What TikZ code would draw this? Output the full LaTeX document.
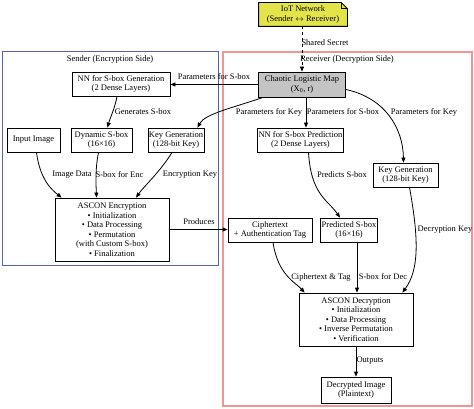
\documentclass[tikz,border=0pt]{standalone}
\usepackage{fontspec}
\setmainfont{Liberation Serif}
\usetikzlibrary{arrows.meta,backgrounds,calc}
\definecolor{sendblue}{HTML}{5363AF}
\definecolor{recvred}{HTML}{F09494}
\definecolor{iotyellow}{HTML}{E3E34A}
\definecolor{chaosgray}{HTML}{C4C4C4}
\begin{document}
\begin{tikzpicture}[x=1pt,y=-1pt,
  box/.style={draw, line width=0.8pt, inner sep=1pt, align=center, font=\fontsize{8.5}{9.5}\selectfont},
  lbl/.style={inner sep=0.5pt, font=\fontsize{8.5}{9.5}\selectfont},
  arr/.style={line width=0.8pt, -{Triangle[length=5pt,width=4pt]}},
]
\useasboundingbox (0,0) rectangle (474,409);
% clusters
\draw[sendblue, line width=1pt] (2,52) rectangle (218,265);
\draw[recvred, line width=1.6pt] (223,52) rectangle (472,406);
\node[lbl] (sendlbl) at (110,59) {Sender (Encryption Side)};
\node[lbl] (recvlbl) at (347,59) {Receiver (Decryption Side)};

% nodes
\node[box, draw=none, minimum width=88pt, minimum height=23pt] (iot) at (303,14.5) {IoT Network\\(Sender $\leftrightarrow$ Receiver)};
\begin{pgfonlayer}{background}
\draw[fill=iotyellow, line width=0.8pt] (iot.south west) -- (iot.south east) -- ([yshift=-6pt]iot.north east) -- ([xshift=-6pt]iot.north east) -- (iot.north west) -- cycle;
\draw[line width=0.5pt] ([xshift=-6pt]iot.north east) -- ([xshift=-6pt,yshift=-6pt]iot.north east) -- ([yshift=-6pt]iot.north east);
\end{pgfonlayer}
\node[box, fill=chaosgray, minimum width=87pt, minimum height=25pt] (chaos) at (302,84.5) {Chaotic Logistic Map\\(X\textsubscript{0}, r)};
\node[box, minimum width=98pt, minimum height=24pt] (nngen) at (121,84) {NN for S-box Generation\\(2 Dense Layers)};
\node[box, minimum width=53pt, minimum height=24pt] (inimg) at (33.5,140) {Input Image};
\node[box, minimum width=61pt, minimum height=24pt] (dyn) at (101.5,140) {Dynamic S-box\\(16×16)};
\node[box, minimum width=56pt, minimum height=24pt] (keys) at (176,140) {Key Generation\\(128-bit Key)};
\node[box, minimum width=114pt, minimum height=63pt] (ascenc) at (112,229.5) {ASCON Encryption\\\textbullet{} Initialization\\\textbullet{} Data Processing\\\textbullet{} Permutation\\(with Custom S-box)\\\textbullet{} Finalization};
\node[box, minimum width=77pt, minimum height=24pt] (nnpred) at (300.5,140) {NN for S-box Prediction\\(2 Dense Layers)};
\node[box, minimum width=65pt, minimum height=24pt] (keyr) at (405.5,175) {Key Generation\\(128-bit Key)};
\node[box, minimum width=52pt, minimum height=24pt] (pred) at (349,230) {Predicted S-box\\(16×16)};
\node[box, minimum width=84pt, minimum height=24pt] (ctext) at (270,230) {Ciphertext\\+ Authentication Tag};
\node[box, minimum width=114pt, minimum height=53pt] (ascdec) at (356,319.5) {ASCON Decryption\\\textbullet{} Initialization\\\textbullet{} Data Processing\\\textbullet{} Inverse Permutation\\\textbullet{} Verification};
\node[box, minimum width=70pt, minimum height=26pt] (decimg) at (356,390) {Decrypted Image\\(Plaintext)};

% connectors
\draw[arr, dashed] (iot.south -| chaos.north) -- (chaos.north) node[lbl] at (325,43) {Shared Secret};
\draw[arr] (chaos.west) -- (chaos.west -| nngen.east) node[lbl] at (214,77) {Parameters for S-box};
\draw[arr] ([xshift=5pt]chaos.south west) .. controls (232,108) and (205,114) .. ([xshift=-7pt]keys.north east) node[lbl] at (269,112) {Parameters for Key};
\draw[arr] ([xshift=4pt]chaos.south) -- ([xshift=4pt]chaos.south |- nnpred.north) node[lbl] at (343,112) {Parameters for S-box};
\draw[arr] ([yshift=-5pt]chaos.east) .. controls (385,98) and (403,128) .. ([xshift=-2pt]keyr.north) node[lbl] at (424,112) {Parameters for Key};
\draw[arr] ([xshift=-4pt]nngen.south) .. controls (115,108) and (110,118) .. ([xshift=6pt]dyn.north) node[lbl] at (143,112) {Generates S-box};
\draw[arr] ([xshift=3pt]inimg.south) .. controls (40,180) and (52,190) .. ([xshift=7pt]ascenc.north west) node[lbl] at (72,175) {Image Data};
\draw[arr] ([xshift=-3pt]dyn.south) .. controls (95,170) and (96,185) .. ([xshift=42pt]ascenc.north west) node[lbl] at (119.5,175) {S-box for Enc};
\draw[arr] ([xshift=-4pt]keys.south) .. controls (160,172) and (145,185) .. ([xshift=24pt]ascenc.north) node[lbl] at (190,175) {Encryption Key};
\draw[arr] (ascenc.east) -- (ascenc.east -| ctext.west) node[lbl] at (199,222) {Produces};
\draw[arr] ([xshift=8pt]nnpred.south) .. controls (311,195) and (328,200) .. ([xshift=-9pt]pred.north) node[lbl] at (342,175) {Predicts S-box};
\draw[arr] ([xshift=4pt]keyr.south) .. controls (419,240) and (419,270) .. ([xshift=-11pt]ascdec.north east) node[lbl] at (445,230) {Decryption Key};
\draw[arr] ([xshift=3pt]ctext.south) .. controls (278,275) and (295,282) .. ([xshift=6pt]ascdec.north west) node[lbl] at (321,277) {Ciphertext \& Tag};
\draw[arr] ([xshift=8pt]pred.south) -- ([xshift=8pt]pred.south |- ascdec.north) node[lbl] at (383,277) {S-box for Dec};
\draw[arr] (ascdec.south) -- (decimg.north) node[lbl] at (370,361) {Outputs};
\end{tikzpicture}
\end{document}
